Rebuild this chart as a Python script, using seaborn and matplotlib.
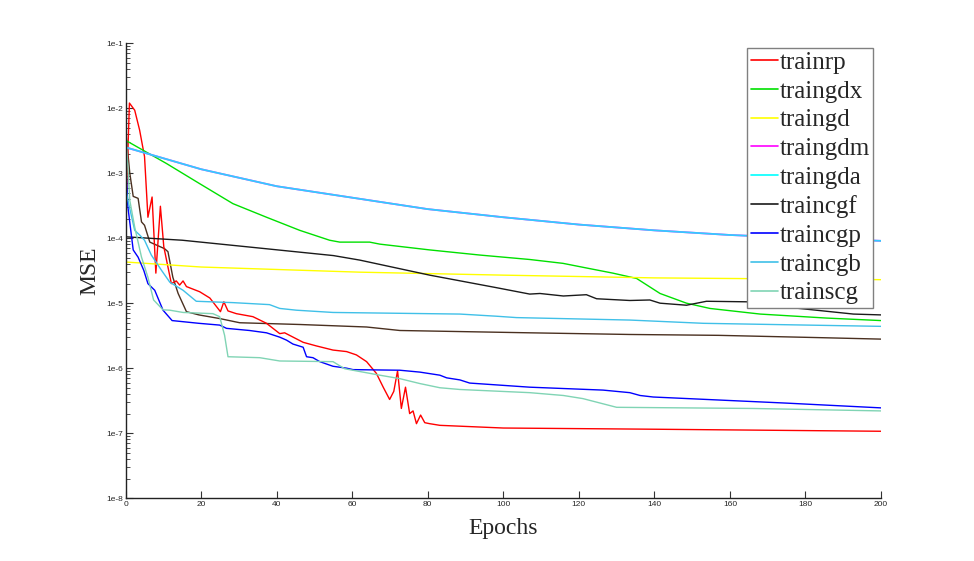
"""
plot.py - MSE vs epochs for the training algorithms (log scale)
"""

import numpy as np
import pandas as pd
import matplotlib
matplotlib.use("Agg")
import matplotlib.pyplot as plt
import matplotlib.ticker as mticker
import seaborn as sns

sns.set_style("ticks")
plt.rcParams.update({
    "font.family": ["Liberation Sans", "DejaVu Sans"],
    "xtick.direction": "in",
    "ytick.direction": "in",
})

SERIF = ["Liberation Serif", "DejaVu Serif"]

# --- data (epoch, MSE) ---
trainrp_x = [0, 1, 2.4, 3.7, 5, 5.9, 7, 8, 9.2, 10.1, 12.1, 13.4, 14.3, 15.2, 16.1,
             19.6, 22.3, 25.1, 26, 27.1, 29.3, 33.7, 37.3, 40.8, 42.1, 47, 50.5,
             54.9, 58.5, 61.1, 63.8, 66.4, 68.2, 69.9, 71, 72, 73, 74.1, 75.2,
             76.1, 77, 78.1, 79.2, 80.5, 83.2, 100, 140, 200]
trainrp_y = [1.78e-4, 1.2e-2, 9.3e-3, 4.6e-3, 1.8e-3, 2.1e-4, 4.3e-4, 2.9e-5, 3.1e-4,
             7.4e-5, 2.0e-5, 2.2e-5, 1.9e-5, 2.2e-5, 1.8e-5, 1.5e-5, 1.2e-5, 7.4e-6,
             1.05e-5, 7.6e-6, 6.9e-6, 6.2e-6, 4.9e-6, 3.4e-6, 3.5e-6, 2.5e-6, 2.2e-6,
             1.9e-6, 1.8e-6, 1.6e-6, 1.26e-6, 8.3e-7, 5.1e-7, 3.3e-7, 4.4e-7, 9.1e-7,
             2.4e-7, 5.1e-7, 2.0e-7, 2.2e-7, 1.4e-7, 1.9e-7, 1.45e-7, 1.4e-7,
             1.32e-7, 1.2e-7, 1.15e-7, 1.07e-7]

traingdx_x = [0, 10.8, 19.6, 28.4, 37.3, 46.1, 54, 56.7, 64.6, 67.3, 80.5, 93.8, 107,
              115.8, 122.9, 129, 135.3, 141.5, 148.5, 154.7, 168, 185.6, 200]
traingdx_y = [3.2e-3, 1.41e-3, 6.9e-4, 3.4e-4, 2.1e-4, 1.32e-4, 9.3e-5, 8.7e-5, 8.7e-5,
              8.1e-5, 6.6e-5, 5.5e-5, 4.7e-5, 4.1e-5, 3.4e-5, 2.9e-5, 2.4e-5, 1.41e-5,
              1.0e-5, 8.3e-6, 6.8e-6, 5.9e-6, 5.4e-6]

traingd_x = [0, 20, 40, 62, 100, 140, 200]
traingd_y = [4.3e-5, 3.6e-5, 3.3e-5, 3.0e-5, 2.7e-5, 2.45e-5, 2.3e-5]

traingdm_x = [0, 20, 40, 60, 80, 100, 120, 140, 160, 180, 200]
traingdm_y = [2.5e-3, 1.15e-3, 6.3e-4, 4.2e-4, 2.8e-4, 2.1e-4, 1.62e-4, 1.32e-4,
              1.12e-4, 1.0e-4, 9.1e-5]

traingda_x = [0, 20, 40, 60, 80, 100, 120, 140, 160, 180, 200]
traingda_y = [2.5e-3, 1.15e-3, 6.3e-4, 4.2e-4, 2.8e-4, 2.1e-4, 1.62e-4, 1.32e-4,
              1.12e-4, 1.0e-4, 9.1e-5]

traincgf_x = [0, 15, 37, 55, 62, 80.5, 98, 107, 109.7, 115.9, 122, 124.7, 133.5,
              138.8, 141.5, 148.5, 153.8, 164.4, 175, 192.7, 200]
traincgf_y = [1.05e-4, 9.3e-5, 6.9e-5, 5.4e-5, 4.6e-5, 2.7e-5, 1.74e-5, 1.38e-5,
              1.41e-5, 1.29e-5, 1.35e-5, 1.17e-5, 1.1e-5, 1.12e-5, 1.0e-5, 9.3e-6,
              1.07e-5, 1.05e-5, 8.7e-6, 6.8e-6, 6.6e-6]

traincgp_x = [0, 0.6, 2, 3.3, 4.8, 5.9, 7.7, 9.9, 12.3, 19.4, 24.9, 26.7, 32.8, 37.3,
              40.8, 42.6, 44.3, 47, 47.9, 49.6, 51.4, 54.9, 58.5, 60.2, 72.6, 77.9,
              83.2, 85, 88.5, 91.1, 107, 126.4, 133.5, 136.2, 139.7, 175, 200]
traincgp_y = [1.6e-3, 3.0e-4, 6.6e-5, 5.1e-5, 3.2e-5, 2.0e-5, 1.58e-5, 7.8e-6, 5.4e-6,
              4.9e-6, 4.6e-6, 4.1e-6, 3.8e-6, 3.5e-6, 3.0e-6, 2.7e-6, 2.35e-6, 2.1e-6,
              1.5e-6, 1.45e-6, 1.26e-6, 1.07e-6, 1.0e-6, 9.5e-7, 9.3e-7, 8.7e-7,
              7.8e-7, 7.1e-7, 6.6e-7, 5.9e-7, 5.1e-7, 4.6e-7, 4.2e-7, 3.8e-7, 3.6e-7,
              2.9e-7, 2.45e-7]

traincgb_x = [0, 0.6, 2.4, 3.7, 5, 6.8, 9.5, 11.7, 15.2, 18.7, 28.4, 38.1, 40.8, 45.2,
              54.9, 88.5, 98.2, 103.5, 133.5, 153, 200]
traincgb_y = [6.0e-4, 3.8e-4, 1.32e-4, 1.12e-4, 9.3e-5, 5.5e-5, 3.2e-5, 2.1e-5,
              1.58e-5, 1.07e-5, 1.02e-5, 9.5e-6, 8.3e-6, 7.8e-6, 7.2e-6, 6.8e-6,
              6.3e-6, 6.0e-6, 5.5e-6, 4.9e-6, 4.4e-6]

trainscg_x = [0, 1.1, 2.4, 4.2, 5.9, 7.4, 9.9, 11.7, 15.2, 23.1, 24.9, 26.2, 27.1,
              35.5, 40.8, 54.9, 58, 67.3, 72.6, 77.9, 83.2, 88.5, 107, 115.9, 121.1,
              130, 166, 200]
trainscg_y = [5.0e-3, 3.8e-4, 1.48e-4, 5.1e-5, 2.5e-5, 1.12e-5, 7.9e-6, 7.8e-6,
              7.2e-6, 6.9e-6, 6.2e-6, 3.2e-6, 1.5e-6, 1.45e-6, 1.29e-6, 1.26e-6,
              9.8e-7, 7.8e-7, 6.9e-7, 5.8e-7, 5.0e-7, 4.7e-7, 4.2e-7, 3.8e-7,
              3.4e-7, 2.5e-7, 2.4e-7, 2.2e-7]

# extra brown curve drawn in the figure without a legend entry
extra_x = [0, 1.1, 2, 3.3, 4.2, 5, 6.4, 10.3, 11.2, 12.5, 13.9, 16.1, 19.4, 24.9,
           30.2, 46.1, 63.8, 72.6, 107, 133.5, 157, 183.8, 200]
extra_y = [4.6e-3, 1.0e-3, 4.4e-4, 4.1e-4, 1.78e-4, 1.58e-4, 8.7e-5, 6.9e-5, 6.2e-5,
           2.5e-5, 1.41e-5, 7.4e-6, 6.6e-6, 5.8e-6, 5.0e-6, 4.7e-6, 4.3e-6, 3.8e-6,
           3.5e-6, 3.3e-6, 3.2e-6, 2.95e-6, 2.8e-6]

SERIES = [
    ("trainrp",  trainrp_x,  trainrp_y,  "#FF0000", 1.0),
    ("traingdx", traingdx_x, traingdx_y, "#00E000", 1.0),
    ("traingd",  traingd_x,  traingd_y,  "#FFFF00", 1.0),
    ("traingdm", traingdm_x, traingdm_y, "#FF00FF", 1.0),
    ("traingda", traingda_x, traingda_y, "#00FFFF", 0.8),
    ("traincgf", traincgf_x, traincgf_y, "#1A1A1A", 1.0),
    ("traincgp", traincgp_x, traincgp_y, "#0000FF", 1.0),
    ("traincgb", traincgb_x, traincgb_y, "#40C0E8", 1.0),
    ("trainscg", trainscg_x, trainscg_y, "#80D4B4", 1.0),
]

fig = plt.figure(figsize=(9.74, 5.61), dpi=100)
ax = fig.add_axes([0.129, 0.112, 0.7755, 0.811])

sns.lineplot(x=extra_x, y=extra_y, color="#4A3020", lw=1.0, ax=ax, legend=False)
for name, xs, ys, color, alpha in SERIES:
    df = pd.DataFrame({"epoch": xs, "mse": ys})
    sns.lineplot(data=df, x="epoch", y="mse", color=color, alpha=alpha,
                 lw=1.3 if name in ("traingdm", "traingda") else 1.0,
                 label=name, ax=ax, sort=False)

ax.set_yscale("log")
ax.set_xlim(0, 200)
ax.set_ylim(1e-8, 1e-1)
ax.xaxis.set_major_locator(mticker.MultipleLocator(20))
ax.yaxis.set_major_locator(mticker.FixedLocator([10.0 ** k for k in range(-8, 0)]))
ax.yaxis.set_major_formatter(mticker.FuncFormatter(
    lambda v, pos: f"1e{int(round(np.log10(v)))}"))
ax.yaxis.set_minor_locator(mticker.LogLocator(base=10, subs=np.arange(2, 10)))
ax.yaxis.set_minor_formatter(mticker.NullFormatter())
ax.tick_params(axis="both", which="major", labelsize=6, length=5, width=0.8,
               pad=2, color="#333333")
ax.tick_params(axis="y", which="minor", length=3, width=0.6, color="#333333")

for side in ("top", "right"):
    ax.spines[side].set_visible(False)
for side in ("left", "bottom"):
    ax.spines[side].set_color("#222222")
    ax.spines[side].set_linewidth(1.0)

ax.set_xlabel("Epochs", family=SERIF, fontsize=17, labelpad=7)
ax.set_ylabel("MSE", family=SERIF, fontsize=17, labelpad=4)

leg = ax.legend(loc="upper right", bbox_to_anchor=(0.99, 0.99), borderaxespad=0,
                prop={"family": SERIF, "size": 18}, frameon=True, fancybox=False,
                edgecolor="#808080", framealpha=1, labelspacing=0.25,
                handlelength=1.1, handletextpad=0.05, borderpad=0.15)
leg.get_frame().set_linewidth(1.0)
for line in leg.get_lines():
    line.set_alpha(1)
    line.set_linewidth(1.2)

fig.savefig("out.png", dpi=100)
